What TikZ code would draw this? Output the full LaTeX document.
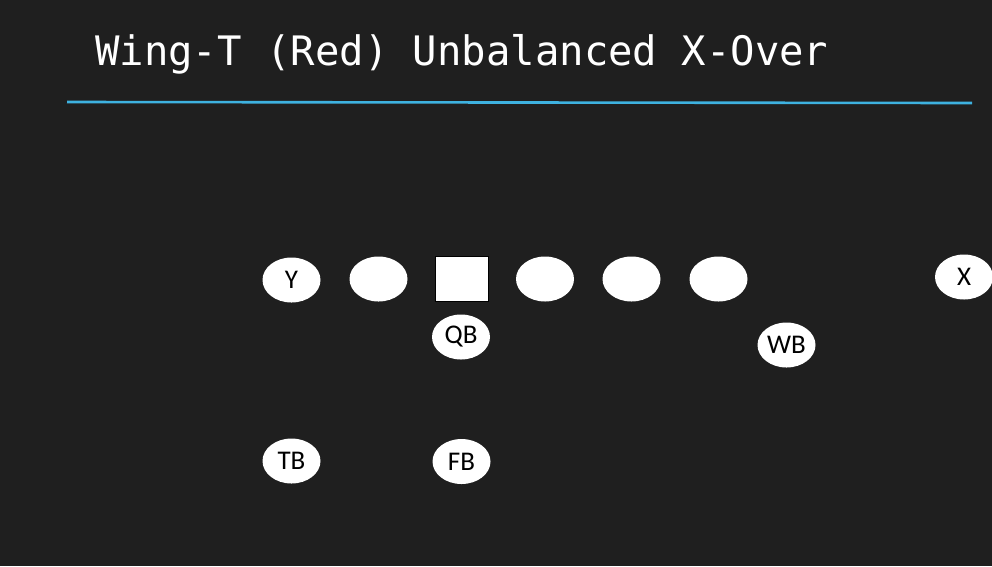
\documentclass[tikz,border=0pt]{standalone}
\usepackage{fontspec}
\usetikzlibrary{shapes.geometric}
\newfontfamily\titlefont{DejaVu Sans Mono}
\newfontfamily\posfont{Carlito}
\definecolor{board}{RGB}{31,31,31}
\definecolor{chalkblue}{RGB}{62,178,224}

\begin{document}
\begin{tikzpicture}
                \tikzset{x=1pt, y=-1pt}
                \tikzstyle{player}=[ellipse, fill=white, inner sep=0pt, minimum width=58pt, minimum height=45pt, font=\posfont\fontsize{27}{27}\selectfont]
                \tikzstyle{center}=[rectangle, fill=white, draw=black, line width=0.8pt, minimum width=53pt, minimum height=45pt]

                \fill[board] (0,0) rectangle (992,566);
                \useasboundingbox (0,0) rectangle (992,566);

                \draw (95,65.5)     node[anchor=base west, inner sep=0pt, text=white, font=\titlefont\fontsize{40.6}{40.6}\selectfont] (title) {Wing-T (Red) Unbalanced X-Over};
                \coordinate (ls) at (67,102);
                \coordinate (le) at (972,103);
                \draw [chalkblue, line width=2.6pt] (ls) -- (le);

                \draw (291.5,280)   node[player]    (y)     {Y};
                \draw (378.5,279)   node[player]    (lg)    {};
                \draw (462.0,278.5) node[center]    (c)     {};
                \draw (545.0,279)   node[player]    (rg)    {};
                \draw (631.5,279)   node[player]    (rt)    {};
                \draw (718.5,279)   node[player]    (te)    {};
                \draw (964.0,277)   node[player]    (x)     {X};

                \draw (461.0,337)   node[player]    (qb)    {QB};
                \draw (786.5,345)   node[player]    (wb)    {WB};
                \draw (291.5,461)   node[player]    (tb)    {TB};
                \draw (461.5,461.5) node[player]    (fb)    {FB};
            \end{tikzpicture}
\end{document}
